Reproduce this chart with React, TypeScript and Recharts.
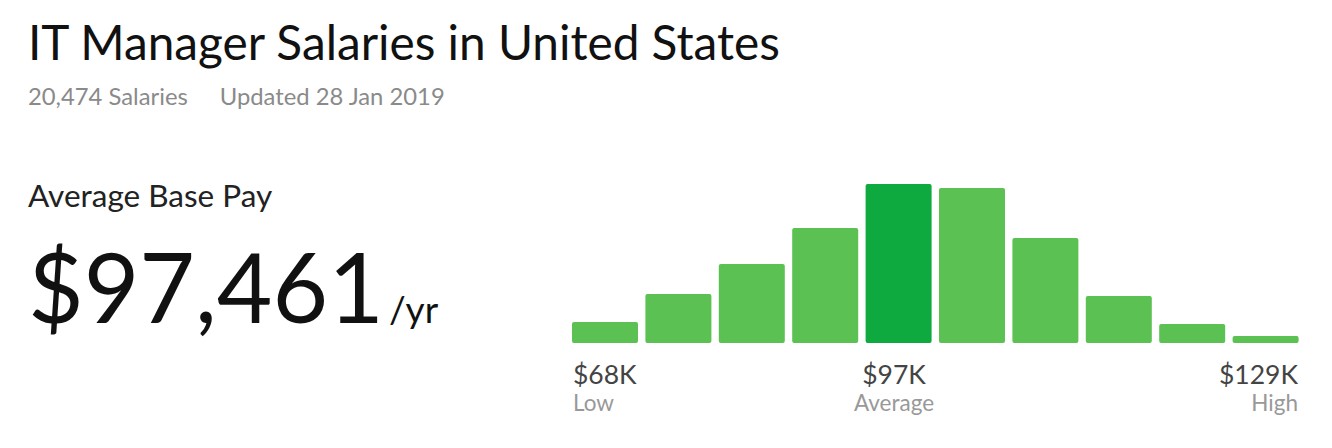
import { BarChart, Bar, XAxis, YAxis, Cell } from "recharts";

const buckets = ["b1", "b2", "b3", "b4", "b5", "b6", "b7", "b8", "b9", "b10"];
const counts = [21, 49, 79, 115, 159, 155, 105, 47, 19, 7];
const averageIndex = 4;

const rangeValues = ["$68K", "$97K", "$129K"];
const rangeLabels = ["Low", "Average", "High"];

const LIGHT = "#5bc152";
const DARK = "#0eaa40";

const data = buckets.map((b, i) => ({ bucket: b, count: counts[i] }));

export default function App() {
  const font = "Lato, 'Open Sans', sans-serif";
  const valueStyle = { fontSize: 26.5, color: "#444" };
  const labelStyle = { fontSize: 22.5, color: "#999", marginTop: 4 };
  return (
    <div style={{ position: "absolute", left: 0, top: 0, width: 1332, height: 448, background: "#fff", fontFamily: font }}>
      <div style={{ position: "absolute", left: 28, top: 18, fontSize: 47.75, lineHeight: 1, color: "#111", whiteSpace: "nowrap" }}>
        IT Manager Salaries in United States
      </div>
      <div style={{ position: "absolute", left: 28, top: 84.5, fontSize: 23.8, lineHeight: 1, color: "#8a8a8a", whiteSpace: "nowrap" }}>
        20,474 Salaries<span style={{ marginLeft: 32 }}>Updated 28 Jan 2019</span>
      </div>
      <div style={{ position: "absolute", left: 28, top: 180, fontSize: 31.5, lineHeight: 1, color: "#222", whiteSpace: "nowrap" }}>
        Average Base Pay
      </div>
      <div style={{ position: "absolute", left: 28, top: 238, fontSize: 96, lineHeight: 1, color: "#111", whiteSpace: "nowrap" }}>
        $97,461<span style={{ fontSize: 37, marginLeft: 5 }}>/yr</span>
      </div>

      <div style={{ position: "absolute", left: 568, top: 184 }}>
        <BarChart width={734} height={159} data={data} margin={{ top: 0, right: 0, bottom: 0, left: 0 }} barSize={66}>
          <XAxis dataKey="bucket" hide />
          <YAxis hide domain={[0, 159]} />
          <Bar dataKey="count" radius={[2, 2, 2, 2]} isAnimationActive={false}>
            {data.map((_, i) => (
              <Cell key={i} fill={i === averageIndex ? DARK : LIGHT} />
            ))}
          </Bar>
        </BarChart>
      </div>

      <div style={{ position: "absolute", left: 573, top: 361, lineHeight: 1, whiteSpace: "nowrap" }}>
        <div style={valueStyle}>{rangeValues[0]}</div>
        <div style={labelStyle}>{rangeLabels[0]}</div>
      </div>
      <div style={{ position: "absolute", left: 794, width: 200, top: 361, lineHeight: 1, textAlign: "center", whiteSpace: "nowrap" }}>
        <div style={valueStyle}>{rangeValues[1]}</div>
        <div style={labelStyle}>{rangeLabels[1]}</div>
      </div>
      <div style={{ position: "absolute", right: 1332 - 1298, top: 361, lineHeight: 1, textAlign: "right", whiteSpace: "nowrap" }}>
        <div style={valueStyle}>{rangeValues[2]}</div>
        <div style={labelStyle}>{rangeLabels[2]}</div>
      </div>
    </div>
  );
}
